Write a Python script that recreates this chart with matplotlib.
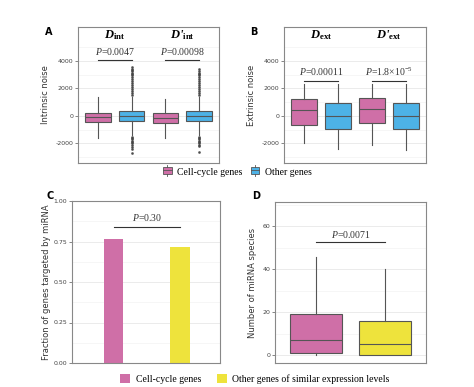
import matplotlib
matplotlib.use("Agg")
import matplotlib.pyplot as plt
from matplotlib.patches import Patch
from matplotlib.legend_handler import HandlerBase
from matplotlib.patches import Rectangle
from matplotlib.lines import Line2D

plt.rcParams['font.family'] = ['DejaVu Sans']
plt.rcParams['axes.unicode_minus'] = False
plt.rcParams['mathtext.fontset'] = 'custom'
plt.rcParams['mathtext.rm'] = 'Liberation Serif'
plt.rcParams['mathtext.it'] = 'Liberation Serif:italic'
plt.rcParams['mathtext.bf'] = 'Liberation Serif:bold'
plt.rcParams['mathtext.bfit'] = 'Liberation Serif:bold:italic'

PINK = '#cf6fa7'
BLUE = '#4db2e6'
YELLOW = '#eee33c'
EDGE = '#555555'
GRID = '#ebebeb'
SERIF = 'Liberation Serif'

# ---------------- data ----------------
# Panel A: intrinsic noise (box stats)
a_q1 = [-450, -350, -500, -350]
a_med = [-100, 0, -150, 0]
a_q3 = [250, 350, 200, 350]
a_wlo = [-1600, -1400, -1600, -1400]
a_whi = [1350, 1400, 1200, 1400]
a_fliers_blue1 = [1500, 1650, 1800, 1950, 2100, 2250, 2400, 2550, 2700, 2850, 2950,
                  3050, 3150, 3250, 3350, 3450, 3550,
                  -1500, -1600, -1700, -1800, -1900, -2000, -2100, -2250, -2400, -2700]
a_fliers_blue2 = [1500, 1650, 1800, 1950, 2100, 2250, 2400, 2550, 2700, 2850, 2950,
                  3050, 3150, 3250, 3400,
                  -1500, -1600, -1700, -1800, -1900, -2000, -2100, -2200, -2600]
a_titles = [r'$\mathbfit{D}_{\mathbf{int}}$', r"$\mathbfit{D}$'$_{\mathbf{int}}$"]
a_pvals = [r'$P$=0.0047', r'$P$=0.00098']

# Panel B: extrinsic noise
b_q1 = [-650, -950, -530, -930]
b_med = [440, 0, 490, 0]
b_q3 = [1240, 920, 1330, 920]
b_wlo = [-2000, -2400, -2100, -2500]
b_whi = [2330, 2330, 2330, 2330]
b_titles = [r'$\mathbfit{D}_{\mathbf{ext}}$', r"$\mathbfit{D}$'$_{\mathbf{ext}}$"]
b_pvals = [r'$P$=0.00011', r'$P$=1.8×10$^{-5}$']

# Panel C: fraction targeted
c_values = [0.768, 0.717]
c_pval = r'$P$=0.30'

# Panel D: number of miRNA species
d_q1 = [1, 0]
d_med = [7, 5]
d_q3 = [19, 16]
d_wlo = [0, 0]
d_whi = [45.7, 40]
d_pval = r'$P$=0.0071'

top_legend = ['Cell-cycle genes', 'Other genes']
bottom_legend = ['Cell-cycle genes', 'Other genes of similar expression levels']

W, H = 474, 387
fig = plt.figure(figsize=(W / 100, H / 100), dpi=100)


def add_ax(x0, y0, x1, y1):
    return fig.add_axes([x0 / W, 1 - y1 / H, (x1 - x0) / W, (y1 - y0) / H])


def style(ax):
    for s in ax.spines.values():
        s.set_color('#888888')
        s.set_linewidth(0.8)
    ax.tick_params(axis='both', labelsize=4.5, length=2, width=0.5,
                   colors='#555555', labelcolor='#444444', pad=1.5)
    ax.set_axisbelow(True)


def boxes(ax, q1, med, q3, wlo, whi, colors, width, fliers=None):
    stats = []
    for i in range(len(q1)):
        st = dict(q1=q1[i], med=med[i], q3=q3[i], whislo=wlo[i], whishi=whi[i],
                  fliers=(fliers[i] if fliers else []))
        stats.append(st)
    bp = ax.bxp(stats, positions=list(range(1, len(q1) + 1)), widths=width,
                patch_artist=True, showcaps=False,
                boxprops=dict(edgecolor=EDGE, linewidth=0.8),
                medianprops=dict(color=EDGE, linewidth=0.8),
                whiskerprops=dict(color=EDGE, linewidth=0.8),
                flierprops=dict(marker='o', markersize=1.0, markerfacecolor='#444444',
                                markeredgecolor='#444444', alpha=0.8))
    for p, c in zip(bp['boxes'], colors):
        p.set_facecolor(c)
    ax.set_xticks([])


def gridlines(ax, major, minor):
    for v in minor:
        ax.axhline(v, color='#f3f3f3', lw=0.5, zorder=0)
    for v in major:
        ax.axhline(v, color=GRID, lw=0.7, zorder=0)


def ptext(ax, x0, x1, yl, yt, s, fs=7):
    ax.plot([x0, x1], [yl, yl], color='#333333', lw=0.8)
    ax.text((x0 + x1) / 2, yt, s, ha='center', va='center', fontsize=fs,
            fontfamily=SERIF, color='#333333')


class BoxHandler(HandlerBase):
    def create_artists(self, legend, orig, xd, yd, width, height, fontsize, trans):
        w = height * 1.2
        x0 = xd + (width - w) / 2
        r = Rectangle((x0, yd), w, height, facecolor=orig.get_facecolor(),
                      edgecolor=EDGE, lw=0.6, transform=trans)
        m = Line2D([x0, x0 + w], [yd + height / 2] * 2, color=EDGE, lw=0.6, transform=trans)
        v1 = Line2D([x0 + w / 2] * 2, [yd - height * 0.25, yd], color=EDGE, lw=0.6, transform=trans)
        v2 = Line2D([x0 + w / 2] * 2, [yd + height, yd + height * 1.25], color=EDGE, lw=0.6, transform=trans)
        return [r, m, v1, v2]


cols4 = [PINK, BLUE, PINK, BLUE]

# ---- Panel A ----
axA = add_ax(78, 27, 219, 163)
style(axA)
gridlines(axA, [-2000, 0, 2000, 4000], [-3000, -1000, 1000, 3000, 5000])
boxes(axA, a_q1, a_med, a_q3, a_wlo, a_whi, cols4, 0.76,
      fliers=[[], a_fliers_blue1, [], a_fliers_blue2])
axA.set_xlim(0.4, 4.6)
axA.set_ylim(-3420, 6470)
axA.set_yticks([-2000, 0, 2000, 4000])
axA.set_ylabel('Intrinsic noise', fontsize=6, color='#333333', labelpad=4)
ptext(axA, 1, 2, 4100, 4700, a_pvals[0])
ptext(axA, 3, 4, 4100, 4700, a_pvals[1])
axA.text(1.5, 5850, a_titles[0], ha='center', va='center', fontsize=9,
         fontfamily=SERIF, fontweight='bold', style='italic')
axA.text(3.5, 5850, a_titles[1], ha='center', va='center', fontsize=9,
         fontfamily=SERIF, fontweight='bold', style='italic')

# ---- Panel B ----
axB = add_ax(284, 27, 426, 163)
style(axB)
gridlines(axB, [-2000, 0, 2000, 4000], [-3000, -1000, 1000, 3000, 5000])
boxes(axB, b_q1, b_med, b_q3, b_wlo, b_whi, cols4, 0.76)
axB.set_xlim(0.41, 4.6)
axB.set_ylim(-3420, 6470)
axB.set_yticks([-2000, 0, 2000, 4000])
axB.set_ylabel('Extrinsic noise', fontsize=6, color='#333333', labelpad=4)
ptext(axB, 1, 2, 2570, 3200, b_pvals[0])
ptext(axB, 3, 4, 2570, 3200, b_pvals[1])
axB.text(1.5, 5850, b_titles[0], ha='center', va='center', fontsize=9,
         fontfamily=SERIF, fontweight='bold', style='italic')
axB.text(3.5, 5850, b_titles[1], ha='center', va='center', fontsize=9,
         fontfamily=SERIF, fontweight='bold', style='italic')

# ---- Panel C ----
axC = add_ax(72, 201, 220, 363)
style(axC)
gridlines(axC, [0, 0.25, 0.5, 0.75, 1.0], [0.125, 0.375, 0.625, 0.875])
axC.bar([1, 2], c_values, width=0.29, color=[PINK, YELLOW], zorder=2)
axC.set_xticks([])
axC.set_xlim(0.376, 2.6)
axC.set_ylim(0, 1.0)
axC.set_yticks([0, 0.25, 0.5, 0.75, 1.0])
axC.set_yticklabels(['0.00', '0.25', '0.50', '0.75', '1.00'])
axC.set_ylabel('Fraction of genes targeted by miRNA', fontsize=6, color='#333333', labelpad=2)
ptext(axC, 1, 2, 0.84, 0.90, c_pval)

# ---- Panel D ----
axD = add_ax(275, 202, 426, 363)
style(axD)
gridlines(axD, [0, 20, 40, 60], [10, 30, 50, 70])
boxes(axD, d_q1, d_med, d_q3, d_wlo, d_whi, [PINK, YELLOW], 0.75)
axD.set_xlim(0.41, 2.59)
axD.set_ylim(-3.7, 71.2)
axD.set_yticks([0, 20, 40, 60])
axD.set_ylabel('Number of miRNA species', fontsize=6, color='#333333', labelpad=4)
ptext(axD, 1, 2, 52.4, 56.2, d_pval)

# ---- panel letters ----
for lab, x, y in [('A', 49, 32), ('B', 254, 32), ('C', 50, 196), ('D', 256, 196)]:
    fig.text(x / W, 1 - y / H, lab, fontsize=7, fontweight='bold', ha='center', va='center')

# ---- legends ----
h1 = [Patch(facecolor=PINK), Patch(facecolor=BLUE)]
fig.legend(h1, top_legend, loc='center', bbox_to_anchor=(237 / W, 1 - 172 / H), ncol=2,
           frameon=False, prop={'family': SERIF, 'size': 7}, handlelength=1.0,
           handleheight=0.8, handletextpad=0.5, columnspacing=0.8,
           handler_map={Patch: BoxHandler()})
h2 = [Patch(facecolor=PINK), Patch(facecolor=YELLOW)]
fig.legend(h2, bottom_legend, loc='center', bbox_to_anchor=(255 / W, 1 - 379 / H), ncol=2,
           frameon=False, prop={'family': SERIF, 'size': 7}, handlelength=1.0,
           handleheight=1.1, handletextpad=0.6, columnspacing=1.6)

fig.savefig('out.png', dpi=100)
